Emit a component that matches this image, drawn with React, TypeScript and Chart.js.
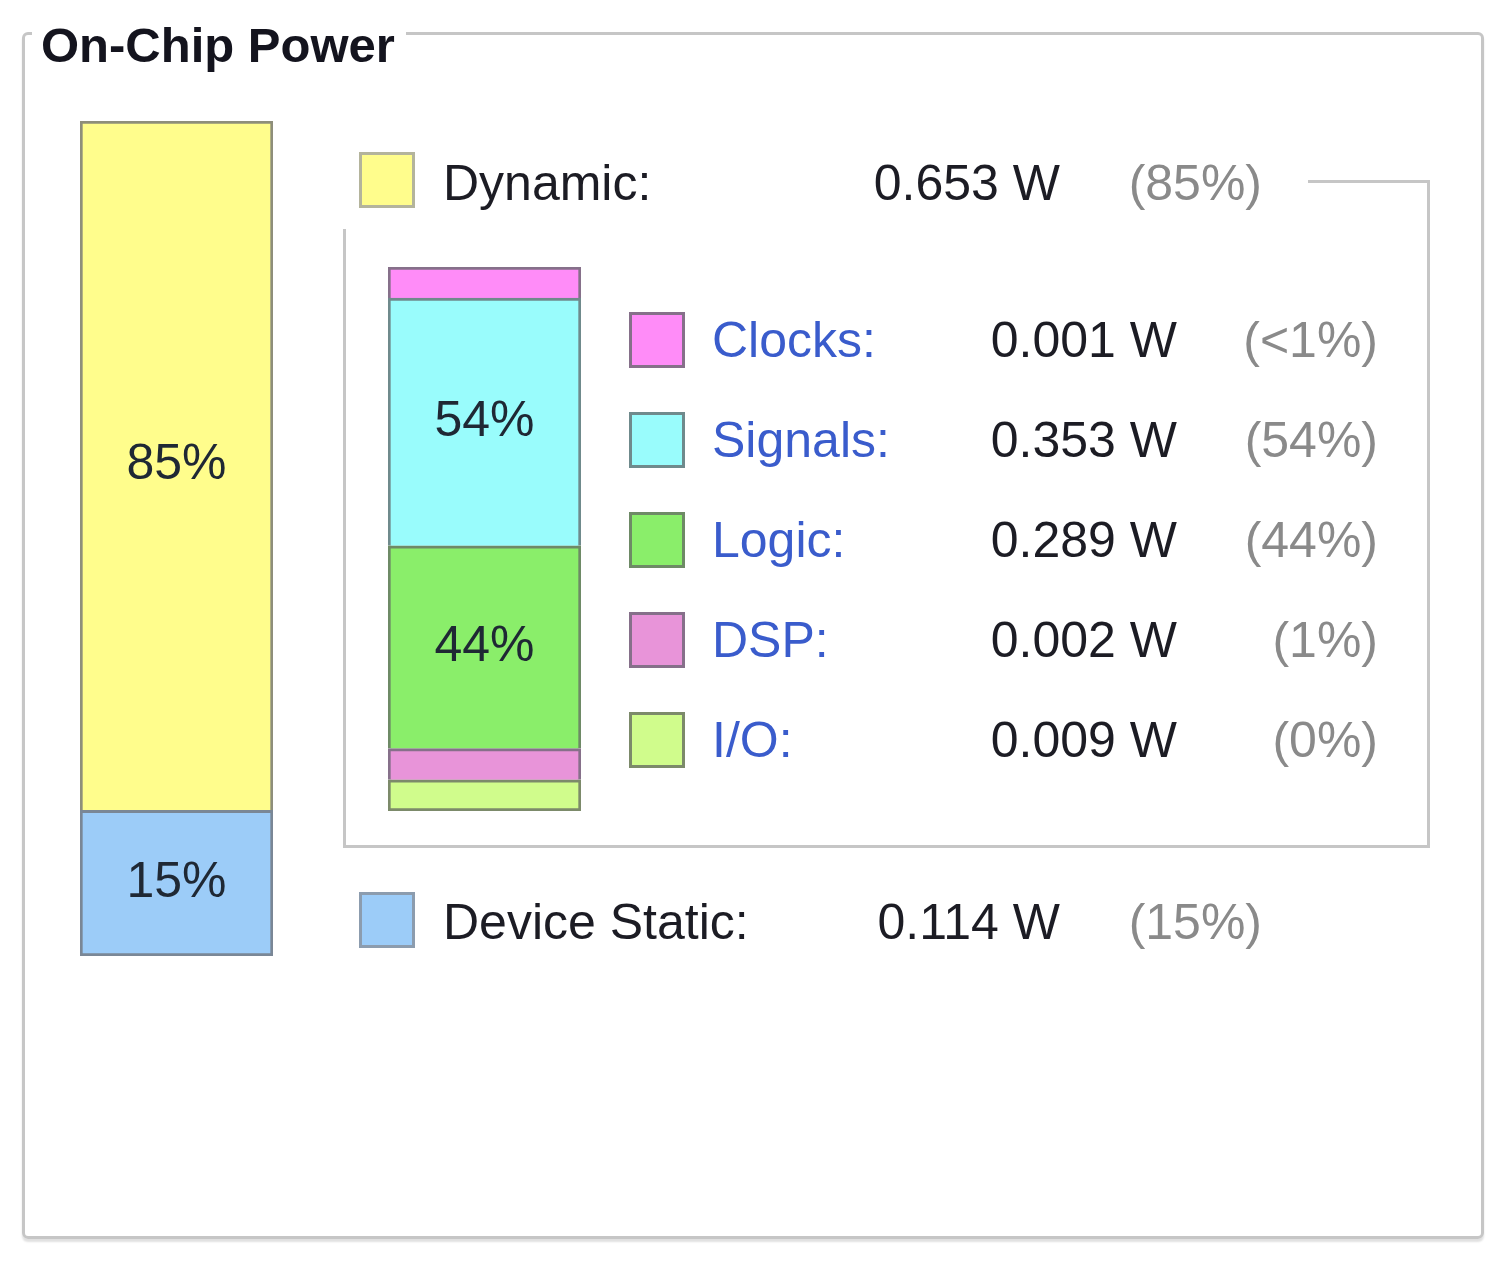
import React, { useEffect, useRef } from "react";
import { Chart, registerables } from "chart.js";

Chart.register(...registerables);

// ---- Data ----
const summaryCategories = ["Dynamic", "Device Static"];
const summaryPower = [0.653, 0.114];
const summaryPercentText = ["(85%)", "(15%)"];
const summaryBarLabels = ["85%", "15%"];
const summaryColors = ["#FFFD8C", "#9CCCF8"];
const summaryBorders = ["#8e8e7a", "#7a8796"];

const dynamicCategories = ["Clocks", "Signals", "Logic", "DSP", "I/O"];
const dynamicPower = [0.001, 0.353, 0.289, 0.002, 0.009];
const dynamicPercentText = ["(<1%)", "(54%)", "(44%)", "(1%)", "(0%)"];
const dynamicBarLabels = ["", "54%", "44%", "", ""];
const dynamicColors = ["#FF8CF8", "#99FCFC", "#8AEE6A", "#E894D9", "#D0FC8C"];
const dynamicBorders = ["#86708a", "#6f8a8c", "#6e8a66", "#86708a", "#7c8a6a"];

const FONT = '"Liberation Sans", Arial, Helvetica, sans-serif';

type BarProps = {
  categories: string[];
  values: number[];
  colors: string[];
  borders: string[];
  labels: string[];
  minShare: number;
  left: number;
  top: number;
  width: number;
  height: number;
};

function StackedBar(p: BarProps) {
  const ref = useRef<HTMLCanvasElement | null>(null);
  useEffect(() => {
    if (!ref.current) return;
    const total = p.values.reduce((a, b) => a + b, 0);
    const shown = p.values.map((v) => Math.max(v, total * p.minShare));
    const shownTotal = shown.reduce((a, b) => a + b, 0);
    // categories are listed top-to-bottom; stack bottom first
    const idx = p.categories.map((_, i) => i).reverse();
    const segLabels = idx.map((i) => p.labels[i]);
    const datasets = idx.map((i, k) => ({
      label: p.categories[i],
      data: [shown[i]],
      backgroundColor: p.colors[i],
      borderColor: p.borders[i],
      borderWidth: 3,
      borderSkipped: k === 0 ? false : ("start" as const),
      barPercentage: 1,
      categoryPercentage: 1,
    }));
    const labelPlugin = {
      id: "segLabels",
      afterDatasetsDraw(chart: any) {
        const ctx = chart.ctx;
        chart.data.datasets.forEach((_: any, i: number) => {
          const lbl = segLabels[i];
          if (!lbl) return;
          const el = chart.getDatasetMeta(i).data[0];
          const props = el.getProps(["x", "y", "base"], true);
          ctx.save();
          ctx.font = `50px ${FONT}`;
          ctx.fillStyle = "#1f2834";
          ctx.textAlign = "center";
          ctx.textBaseline = "middle";
          ctx.fillText(lbl, props.x, (props.y + props.base) / 2);
          ctx.restore();
        });
      },
    };
    const chart = new Chart(ref.current, {
      type: "bar",
      data: { labels: [""], datasets },
      options: {
        responsive: false,
        animation: false,
        layout: { padding: 0 },
        scales: {
          x: { display: false, stacked: true },
          y: { display: false, stacked: true, min: 0, max: shownTotal },
        },
        plugins: { legend: { display: false }, tooltip: { enabled: false } },
      },
      plugins: [labelPlugin],
    });
    return () => chart.destroy();
  }, []);
  return (
    <canvas
      ref={ref}
      width={p.width}
      height={p.height}
      style={{ position: "absolute", left: p.left, top: p.top, width: p.width, height: p.height }}
    />
  );
}

function Swatch({ left, cy, color, border }: { left: number; cy: number; color: string; border: string }) {
  return (
    <div
      style={{
        position: "absolute",
        left,
        top: cy - 28,
        width: 56,
        height: 56,
        boxSizing: "border-box",
        background: color,
        border: `3px solid ${border}`,
      }}
    />
  );
}

function Txt({
  text,
  cy,
  left,
  right,
  color,
  size = 50,
  bold = false,
}: {
  text: string;
  cy: number;
  left?: number;
  right?: number;
  color: string;
  size?: number;
  bold?: boolean;
}) {
  const style: React.CSSProperties = {
    position: "absolute",
    top: cy - 30,
    height: 60,
    lineHeight: "60px",
    fontSize: size,
    fontWeight: bold ? 700 : 400,
    color,
    whiteSpace: "nowrap",
  };
  if (right !== undefined) {
    style.left = right - 500;
    style.width = 500;
    style.textAlign = "right";
  } else {
    style.left = left;
  }
  return <div style={style}>{text}</div>;
}

const line = "#c6c6c6";

export default function App() {
  const rowY = [340, 440, 540, 640, 740];
  return (
    <div
      style={{
        position: "absolute",
        left: 0,
        top: 0,
        width: 1503,
        height: 1266,
        background: "#ffffff",
        fontFamily: FONT,
        overflow: "hidden",
      }}
    >
      {/* outer frame */}
      <div
        style={{
          position: "absolute",
          left: 22,
          top: 32,
          width: 1462,
          height: 1207,
          boxSizing: "border-box",
          border: `3px solid ${line}`,
          borderRadius: 6,
          boxShadow: "0 3px 2px rgba(0,0,0,0.12)",
        }}
      />
      <div
        style={{
          position: "absolute",
          left: 32,
          top: 18,
          width: 374,
          height: 30,
          background: "#ffffff",
        }}
      />
      <Txt text="On-Chip Power" cy={45} left={41} color="#14141e" size={49} bold />

      {/* left summary bar */}
      <StackedBar
        categories={summaryCategories}
        values={summaryPower}
        colors={summaryColors}
        borders={summaryBorders}
        labels={summaryBarLabels}
        minShare={0.18}
        left={80}
        top={121}
        width={193}
        height={835}
      />

      {/* dynamic row */}
      <Swatch left={359} cy={180} color={summaryColors[0]} border="#b4b49c" />
      <Txt text={summaryCategories[0] + ":"} cy={183} left={443} color="#1c1c24" />
      <Txt text={summaryPower[0].toFixed(3) + " W"} cy={183} right={1060} color="#1c1c24" />
      <Txt text={summaryPercentText[0]} cy={183} right={1262} color="#8a8a8a" />

      {/* inner bracket box */}
      <div style={{ position: "absolute", left: 1308, top: 180, width: 122, height: 3, background: line }} />
      <div style={{ position: "absolute", left: 1427, top: 180, width: 3, height: 668, background: line }} />
      <div style={{ position: "absolute", left: 343, top: 845, width: 1087, height: 3, background: line }} />
      <div style={{ position: "absolute", left: 343, top: 229, width: 3, height: 619, background: line }} />

      {/* dynamic breakdown bar */}
      <StackedBar
        categories={dynamicCategories}
        values={dynamicPower}
        colors={dynamicColors}
        borders={dynamicBorders}
        labels={dynamicBarLabels}
        minShare={0.068}
        left={388}
        top={267}
        width={193}
        height={544}
      />

      {dynamicCategories.map((c, i) => (
        <React.Fragment key={c}>
          <Swatch left={629} cy={rowY[i]} color={dynamicColors[i]} border={dynamicBorders[i]} />
          <Txt text={c + ":"} cy={rowY[i]} left={712} color="#3a5ccc" />
          <Txt text={dynamicPower[i].toFixed(3) + " W"} cy={rowY[i]} right={1177} color="#1c1c24" />
          <Txt text={dynamicPercentText[i]} cy={rowY[i]} right={1378} color="#8a8a8a" />
        </React.Fragment>
      ))}

      {/* device static row */}
      <Swatch left={359} cy={920} color={summaryColors[1]} border="#8c9cae" />
      <Txt text={summaryCategories[1] + ":"} cy={922} left={443} color="#1c1c24" />
      <Txt text={summaryPower[1].toFixed(3) + " W"} cy={922} right={1060} color="#1c1c24" />
      <Txt text={summaryPercentText[1]} cy={922} right={1262} color="#8a8a8a" />
    </div>
  );
}
